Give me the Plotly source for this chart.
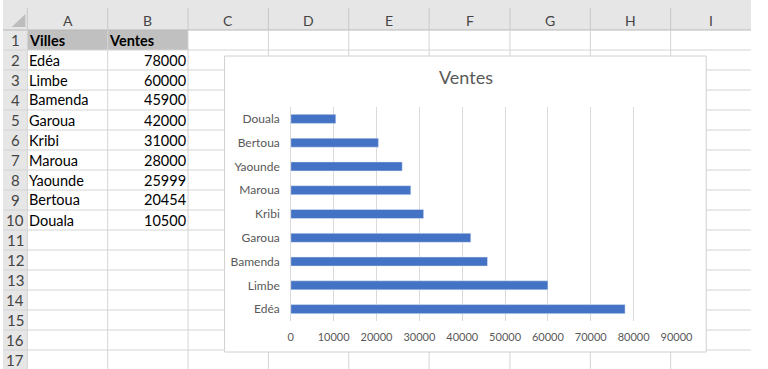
import plotly.graph_objects as go

# ---- data ----
villes = ["Edéa", "Limbe", "Bamenda", "Garoua", "Kribi", "Maroua", "Yaounde", "Bertoua", "Douala"]
ventes = [78000, 60000, 45900, 42000, 31000, 28000, 25999, 20454, 10500]
header_villes = "Villes"
header_ventes = "Ventes"
chart_title = "Ventes"
col_letters = ["A", "B", "C", "D", "E", "F", "G", "H", "I"]
row_numbers = list(range(1, 18))
x_ticks = [0, 10000, 20000, 30000, 40000, 50000, 60000, 70000, 80000, 90000]

W, H = 768, 369
def px(x): return x / W
def py(y): return 1 - y / H

FONT = "Lato"
TXT = "#595959"
GRID = "#dadada"
CELL = 14.5

# spreadsheet geometry (layout)
col_edges = [25, 107.5, 190, 272.5, 355, 437.5, 520.5, 603, 685.5, 768]
row_top = 30
row_h = 20

shapes = []
annotations = []

# header backgrounds
shapes.append(dict(type="rect", xref="paper", yref="paper", x0=0, x1=1, y0=py(30), y1=py(0),
                   fillcolor="#e6e6e6", line_width=0, layer="below"))
shapes.append(dict(type="rect", xref="paper", yref="paper", x0=0, x1=px(25), y0=0, y1=py(30),
                   fillcolor="#e6e6e6", line_width=0, layer="below"))
# A1:B1 fill
shapes.append(dict(type="rect", xref="paper", yref="paper", x0=px(25), x1=px(190), y0=py(50), y1=py(30),
                   fillcolor="#c0c0c0", line_width=0, layer="below"))
# corner triangle
shapes.append(dict(type="path", xref="paper", yref="paper",
                   path=f"M {px(9)},{py(27)} L {px(23)},{py(27)} L {px(23)},{py(14)} Z",
                   fillcolor="#bdbdbd", line_width=0, layer="below"))
# horizontal grid lines
for k in range(0, 18):
    y = row_top + k * row_h
    shapes.append(dict(type="line", xref="paper", yref="paper", x0=0, x1=1, y0=py(y), y1=py(y),
                       line=dict(color="#d4d4d4" if k else "#b8b8b8", width=1), layer="below"))
# vertical grid lines
for i, x in enumerate(col_edges[:-1]):
    shapes.append(dict(type="line", xref="paper", yref="paper", x0=px(x), x1=px(x), y0=0, y1=py(30),
                       line=dict(color="#d4d4d4", width=1), layer="below"))
    shapes.append(dict(type="line", xref="paper", yref="paper", x0=px(x), x1=px(x), y0=py(30), y1=py(8),
                       line=dict(color="#c8c8c8", width=1), layer="below"))
# chart box (white with light border)
shapes.append(dict(type="rect", xref="paper", yref="paper", x0=px(227.5), x1=px(722), y0=py(352), y1=py(56),
                   fillcolor="white", line=dict(color="#d0d0d0", width=1), layer="below"))

# column letters
for i, c in enumerate(col_letters):
    xc = (col_edges[i] + col_edges[i + 1]) / 2
    annotations.append(dict(text=c, x=px(xc), y=py(21), xref="paper", yref="paper", showarrow=False,
                            xanchor="center", yanchor="middle", font=dict(family=FONT, size=14, color="#444444")))
# row numbers
for r in row_numbers:
    yc = row_top + (r - 0.5) * row_h
    annotations.append(dict(text=str(r), x=px(12.5), y=py(yc), xref="paper", yref="paper", showarrow=False,
                            xanchor="center", yanchor="middle", font=dict(family=FONT, size=15, color="#444444")))
# cell contents
annotations.append(dict(text="<b>" + header_villes + "</b>", x=px(25), y=py(40), xref="paper", yref="paper",
                        showarrow=False, xanchor="left", yanchor="middle", font=dict(family=FONT, size=CELL, color="black")))
annotations.append(dict(text="<b>" + header_ventes + "</b>", x=px(107), y=py(40), xref="paper", yref="paper",
                        showarrow=False, xanchor="left", yanchor="middle", font=dict(family=FONT, size=CELL, color="black")))
for i, (v, s) in enumerate(zip(villes, ventes)):
    yc = row_top + (i + 1.5) * row_h
    annotations.append(dict(text=v, x=px(25), y=py(yc), xref="paper", yref="paper", showarrow=False,
                            xanchor="left", yanchor="middle", font=dict(family=FONT, size=CELL, color="black")))
    annotations.append(dict(text=str(s), x=px(190), y=py(yc), xref="paper", yref="paper", showarrow=False,
                            xanchor="right", yanchor="middle", font=dict(family=FONT, size=CELL, color="black")))
# chart title
annotations.append(dict(text=chart_title, x=px(475), y=py(77), xref="paper", yref="paper", showarrow=False,
                        xanchor="center", yanchor="middle", font=dict(family=FONT, size=18, color=TXT)))

fig = go.Figure(go.Bar(x=ventes, y=villes, orientation="h", marker_color="#4472C4", width=0.38,
                       hoverinfo="x+y"))

fig.update_layout(
    width=W, height=H, autosize=False,
    margin=dict(l=0, r=0, t=0, b=0, pad=0),
    paper_bgcolor="white", plot_bgcolor="rgba(0,0,0,0)",
    showlegend=False,
    shapes=shapes, annotations=annotations,
    xaxis=dict(domain=[px(295.5), px(691.5)], range=[0, 90000], tickvals=x_ticks,
               ticktext=[str(t) for t in x_ticks],
               showgrid=True, gridcolor=GRID, gridwidth=1, zeroline=True, zerolinecolor=GRID, zerolinewidth=1,
               showline=False, ticks="", ticklabelstandoff=8,
               tickfont=dict(family=FONT, size=11, color=TXT), fixedrange=True),
    yaxis=dict(domain=[py(321), py(107)], range=[-0.5, 8.5], type="category",
               showgrid=False, zeroline=False, showline=False, ticks="", ticklabelstandoff=10,
               tickfont=dict(family=FONT, size=12, color=TXT), fixedrange=True),
    font=dict(family=FONT),
)

fig.write_html("out.html")
